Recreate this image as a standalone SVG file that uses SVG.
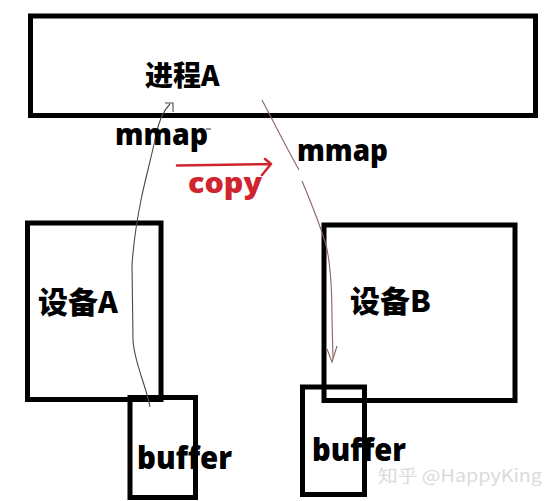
<svg xmlns="http://www.w3.org/2000/svg" width="554" height="501" viewBox="0 0 554 501">
<style>
.box{fill:none;stroke:#000;stroke-width:5}
.t{font-family:"Open Sans","Noto Sans CJK SC","Liberation Sans",sans-serif;font-weight:800;fill:#000}
.zh{font-family:"Noto Sans CJK SC","Liberation Sans",sans-serif;font-weight:900;fill:#000}
.c1{fill:none;stroke:#4a4a4a;stroke-width:1.1}
.c2{fill:none;stroke:#8a6464;stroke-width:1.1}
.red{fill:none;stroke:#d0242f;stroke-width:2.5;stroke-linecap:round;stroke-linejoin:round}
</style>
<rect width="554" height="501" fill="#fff"/>
<g id="processA">
<rect class="box" x="30.5" y="16" width="505" height="99.5"/>
<text class="zh" x="145" y="86" font-size="28">进程A</text>
</g>
<g id="deviceA">
<rect class="box" x="27.5" y="223" width="133.5" height="176.5"/>
<text class="zh" x="38" y="313" font-size="30">设备A</text>
</g>
<g id="bufferA">
<rect class="box" x="130" y="397.5" width="65.5" height="100"/>
<text class="t" x="137" y="469" font-size="31" textLength="95" lengthAdjust="spacingAndGlyphs">buffer</text>
</g>
<g id="deviceB">
<rect class="box" x="324" y="225" width="191" height="175.5"/>
<text class="zh" x="350" y="312" font-size="30">设备B</text>
</g>
<g id="bufferB">
<rect class="box" x="302.5" y="387" width="62" height="107.5"/>
<text class="t" x="312" y="461" font-size="31" textLength="94" lengthAdjust="spacingAndGlyphs">buffer</text>
</g>
<g id="connectors">
<path class="c1" d="M150,407 C146,385 134,362 133,340 L132,265 C134,235 138,215 141,200 C145,180 152,155 156,135 C159,120 164,110 170,104"/>
<path class="c1" d="M165,103 L173,103 L173,112"/>
<path class="c1" d="M206,129 L211,129"/>
<path class="c2" d="M262,100 C270,115 285,145 299,170 M302,181 C310,200 320,225 326,245 C331,265 332,290 332,320 L333,358"/>
<path class="c2" d="M327,349 L332,362 L337,346"/>
<path class="red" d="M177,165.5 L210,165 L271,164 M265,159 L271,164 L262,175"/>
<text class="t" x="115" y="145" font-size="30" textLength="93" lengthAdjust="spacingAndGlyphs">mmap</text>
<text class="t" x="297" y="161" font-size="30" textLength="91" lengthAdjust="spacingAndGlyphs">mmap</text>
<text class="t" x="188" y="193" font-size="29" textLength="74" lengthAdjust="spacingAndGlyphs" style="fill:#d0242f">copy</text>
</g>
<text x="378" y="482" font-family="'Noto Sans CJK SC','Liberation Sans',sans-serif" font-size="17" fill="#dadada" textLength="164" lengthAdjust="spacingAndGlyphs">知乎 @HappyKing</text>
</svg>
